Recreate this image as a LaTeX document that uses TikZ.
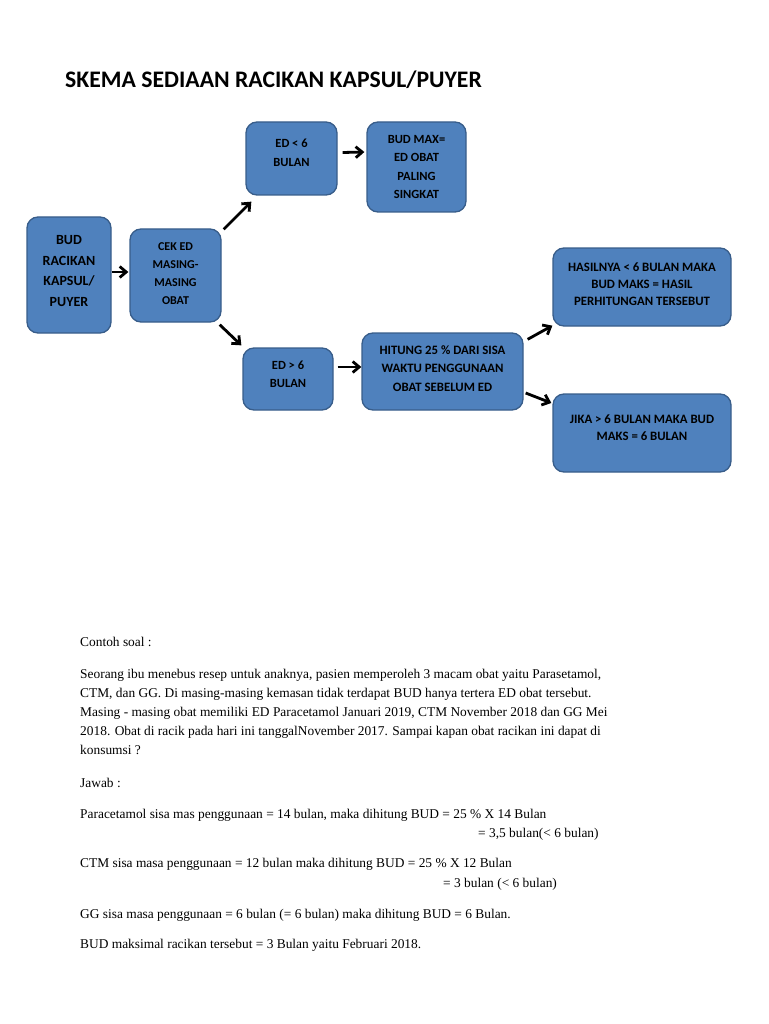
\documentclass[tikz,border=0pt]{standalone}
\usepackage{fontspec}
\setmainfont{Liberation Serif}
\newfontfamily\boxfont{Carlito}
\usetikzlibrary{arrows.meta,calc}
\definecolor{boxblue}{RGB}{79,129,189}
\definecolor{boxline}{RGB}{56,93,138}
\tikzset{
  box/.style={draw=boxline,fill=boxblue,line width=1.3pt,rounded corners=11pt,
    align=center,inner sep=0pt,text=black},
  arr/.style={-{Straight Barb[length=6.5pt,width=11pt]},line width=2.8pt},
  soal/.style={anchor=base west,inner sep=0pt,font=\fontsize{13.4}{16}\selectfont}
}
\begin{document}
\begin{tikzpicture}[x=1pt,y=-1pt]
  \useasboundingbox (0,0) rectangle (768,1024);
  \node[anchor=base west,inner sep=0pt,font=\boxfont\bfseries\fontsize{23.7}{28}\selectfont] (judul) at (65,88) {SKEMA SEDIAAN RACIKAN KAPSUL/PUYER};
  % kotak skema
  \node[box,minimum width=84pt,minimum height=116pt,font=\boxfont\bfseries\fontsize{14}{20.5}\selectfont] (bud) at (69,275) {BUD\\RACIKAN\\KAPSUL/\\PUYER\\[-12.5pt]};
  \node[box,minimum width=91pt,minimum height=93pt,font=\boxfont\bfseries\fontsize{12}{18.1}\selectfont] (cek) at (175.5,275.5) {CEK ED\\MASING-\\MASING\\OBAT\\[-14pt]};
  \node[box,minimum width=91pt,minimum height=73pt,font=\boxfont\bfseries\fontsize{12.5}{18.3}\selectfont] (edkecil) at (291.5,158.5) {ED < 6\\BULAN\\[-7pt]};
  \node[box,minimum width=99pt,minimum height=90pt,font=\boxfont\bfseries\fontsize{12.5}{18.3}\selectfont] (budmax) at (416.5,167) {BUD MAX=\\ED OBAT\\PALING\\SINGKAT};
  \node[box,minimum width=90pt,minimum height=62pt,font=\boxfont\bfseries\fontsize{12.5}{18}\selectfont] (edbesar) at (288,379) {ED > 6\\BULAN\\[-8pt]};
  \node[box,minimum width=161pt,minimum height=77pt,font=\boxfont\bfseries\fontsize{12.8}{18.5}\selectfont] (hitung) at (442.5,371.5) {HITUNG 25 \% DARI SISA\\WAKTU PENGGUNAAN\\OBAT SEBELUM ED\\[-12.5pt]};
  \node[box,minimum width=178pt,minimum height=78pt,font=\boxfont\bfseries\fontsize{12.8}{17}\selectfont] (hasil) at (642,287) {HASILNYA < 6 BULAN MAKA\\BUD MAKS = HASIL\\PERHITUNGAN TERSEBUT\\[-11pt]};
  \node[box,minimum width=178pt,minimum height=78pt,font=\boxfont\bfseries\fontsize{12.8}{17}\selectfont] (jika) at (642,433) {JIKA > 6 BULAN MAKA BUD\\MAKS = 6 BULAN\\[-7pt]};
  % panah
  \draw[arr] (bud.east) ++(0,-3) -- ($(cek.west)+(-1,-3.5)$);
  \draw[arr] ($(cek.north east)+(2,1)$) -- ($(edkecil.south west)+(6,6)$);
  \draw[arr] ($(cek.south east)+(-2,2)$) -- ($(edbesar.north west)+(-1,-2)$);
  \draw[arr] ($(edkecil.east)+(5,-6)$) -- ($(budmax.west)+(-2,-15)$);
  \draw[arr] ($(edbesar.east)+(4,-12)$) -- ($(hitung.west)+(0,-4.5)$);
  \draw[arr] ($(hitung.north east)+(4,7)$) -- ($(hasil.south west)+(0,-1)$);
  \draw[arr] ($(hitung.east)+(2,21.5)$) -- ($(jika.west)+(-1,-30)$);
  % contoh soal
  \node[soal] (s1) at (80,646) {Contoh soal :};
  \node[soal] (s2) at (80,678) {Seorang ibu menebus resep untuk anaknya, pasien memperoleh 3 macam obat yaitu Parasetamol,};
  \node[soal] (s3) at (80,697) {CTM, dan GG. Di masing-masing kemasan tidak terdapat BUD hanya tertera ED obat tersebut.};
  \node[soal] (s4) at (80,716) {Masing - masing obat memiliki ED Paracetamol Januari 2019, CTM November 2018 dan GG Mei};
  \node[soal] (s5) at (80,735) {2018. Obat di racik pada hari ini tanggalNovember 2017. Sampai kapan obat racikan ini dapat di};
  \node[soal] (s6) at (80,754) {konsumsi ?};
  \node[soal] (j1) at (80,787) {Jawab :};
  \node[soal] (j2) at (80,818) {Paracetamol sisa mas penggunaan = 14 bulan, maka dihitung BUD = 25 \% X 14 Bulan};
  \node[soal] (j3) at (478,837) {= 3,5 bulan(< 6 bulan)};
  \node[soal] (j4) at (80,867) {CTM sisa masa penggunaan = 12 bulan maka dihitung BUD = 25 \% X 12 Bulan};
  \node[soal] (j5) at (443,887) {= 3 bulan (< 6 bulan)};
  \node[soal] (j6) at (80,918) {GG sisa masa penggunaan = 6 bulan (= 6 bulan) maka dihitung BUD = 6 Bulan.};
  \node[soal] (j7) at (80,948) {BUD maksimal racikan tersebut = 3 Bulan yaitu Februari 2018.};
\end{tikzpicture}
\end{document}
